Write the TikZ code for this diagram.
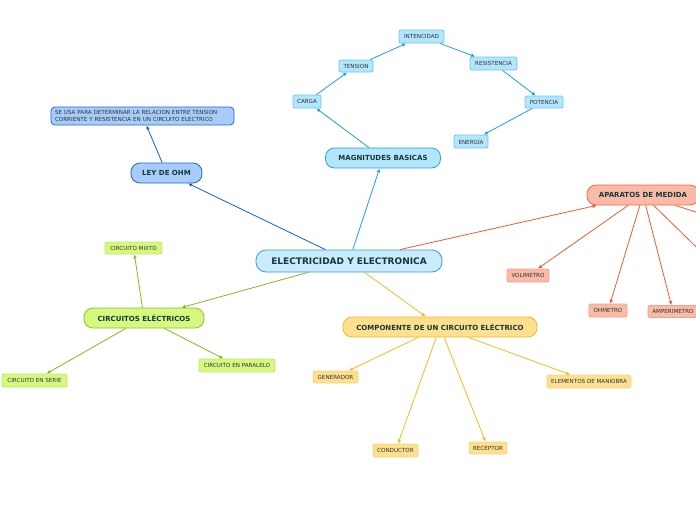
\documentclass[tikz,border=0pt]{standalone}
\usepackage{fontspec}
\setmainfont{DejaVu Sans}
\usetikzlibrary{arrows.meta}
\definecolor{txt}{HTML}{173838}
\definecolor{stxt}{HTML}{2E3434}
\definecolor{rootf}{HTML}{C8ECFC}
\definecolor{rootd}{HTML}{3E9ADD}
\definecolor{magf}{HTML}{B3E5FC}
\definecolor{magd}{HTML}{22A6DF}
\definecolor{magc}{HTML}{6CC8F0}
\definecolor{magl}{HTML}{1BA1E2}
\definecolor{ohmf}{HTML}{A8CCFA}
\definecolor{ohmd}{HTML}{2266D6}
\definecolor{ohml}{HTML}{1060D6}
\definecolor{apaf}{HTML}{F9BBA8}
\definecolor{apad}{HTML}{F26A3D}
\definecolor{apac}{HTML}{F4A08A}
\definecolor{apal}{HTML}{F05A2C}
\definecolor{cirf}{HTML}{D6F880}
\definecolor{cird}{HTML}{8DC21F}
\definecolor{circ}{HTML}{C3E86A}
\definecolor{cirl}{HTML}{8AB81A}
\definecolor{comf}{HTML}{FDE08F}
\definecolor{comd}{HTML}{F8B526}
\definecolor{comc}{HTML}{FBD47A}
\definecolor{coml}{HTML}{FBB81C}
\tikzset{
  basebox/.style={draw, line width=0.8pt, inner sep=0pt, align=center},
  bigbox/.style={basebox, text=txt, rounded corners=9pt, font=\bfseries\fontsize{7}{8}\selectfont, minimum height=20pt},
  smallbox/.style={basebox, text=stxt, rounded corners=2pt, font=\fontsize{5.6}{7}\selectfont, minimum height=13pt},
  arr/.style={line width=0.8pt, -{Latex[length=4pt,width=3.6pt]}},
}
\begin{document}
\begin{tikzpicture}[x=1pt,y=1pt]
\useasboundingbox (0,0) rectangle (696,-520);
% root
\node[basebox, text=txt, rounded corners=10pt, fill=rootf, draw=rootd, font=\bfseries\fontsize{9}{10}\selectfont, minimum width=186pt, minimum height=22pt] (root) at (349,-261) {ELECTRICIDAD Y ELECTRONICA};
% magnitudes
\node[bigbox, fill=magf, draw=magd, minimum width=115pt] (magn) at (383,-158) {MAGNITUDES BASICAS};
\node[smallbox, fill=magf, draw=magc, minimum width=28pt] (carga) at (307,-101.5) {CARGA};
\node[smallbox, fill=magf, draw=magc, minimum width=34pt, minimum height=12pt] (tension) at (356,-66) {TENSION};
\node[smallbox, fill=magf, draw=magc, minimum width=45pt] (intenc) at (421.5,-36.5) {INTENCIDAD};
\node[smallbox, fill=magf, draw=magc, minimum width=47pt] (resist) at (493.5,-63.5) {RESISTENCIA};
\node[smallbox, fill=magf, draw=magc, minimum width=38pt, minimum height=12pt] (poten) at (544,-102) {POTENCIA};
\node[smallbox, fill=magf, draw=magc, minimum width=34pt] (energ) at (471,-141.5) {ENERGÍA};
% ohm
\node[bigbox, fill=ohmf, draw=ohmd, minimum width=71pt] (ohm) at (166.5,-173) {LEY DE OHM};
\node[smallbox, fill=ohmf, draw=ohmd, rounded corners=4pt, minimum width=183pt, minimum height=18pt, text width=175pt, align=left] (seusa) at (142.5,-116) {SE USA PARA DETERMINAR LA RELACION ENTRE TENSION\\CORRIENTE Y RESISTENCIA EN UN CIRCUITO ELECTRICO};
% aparatos
\node[bigbox, fill=apaf, draw=apad, minimum width=112pt] (apar) at (643,-195) {APARATOS DE MEDIDA};
\node[smallbox, fill=apaf, draw=apac, minimum width=42pt] (volim) at (528,-275.5) {VOLIMETRO};
\node[smallbox, fill=apaf, draw=apac, minimum width=38pt] (ohmet) at (608,-310.5) {OHMETRO};
\node[smallbox, fill=apaf, draw=apac, minimum width=50pt, minimum height=12pt] (amper) at (673,-311.5) {AMPERIMETRO};
\coordinate (offA) at (730,-280);
\coordinate (offB) at (730,-223);
% circuitos
\node[bigbox, fill=cirf, draw=cird, minimum width=120pt] (circ) at (144,-318) {CIRCUITOS ELÉCTRICOS};
\node[smallbox, fill=cirf, draw=circ, minimum width=57pt, minimum height=12pt] (mixto) at (133.5,-248) {CIRCUITO MIXTO};
\node[smallbox, fill=cirf, draw=circ, minimum width=65pt] (serie) at (34.5,-380.5) {CIRCUITO EN SERIE};
\node[smallbox, fill=cirf, draw=circ, minimum width=76pt] (paral) at (237,-365.5) {CIRCUITO EN PARALELO};
% componente
\node[bigbox, fill=comf, draw=comd, minimum width=194pt] (comp) at (440,-327) {COMPONENTE DE UN CIRCUITO ELÉCTRICO};
\node[smallbox, fill=comf, draw=comc, minimum width=45pt, minimum height=12pt] (gener) at (335.5,-377) {GENERADOR};
\node[smallbox, fill=comf, draw=comc, minimum width=45pt] (conduc) at (395.5,-450.5) {CONDUCTOR};
\node[smallbox, fill=comf, draw=comc, minimum width=38pt, minimum height=12pt] (recep) at (488,-448) {RECEPTOR};
\node[smallbox, fill=comf, draw=comc, minimum width=84pt] (elem) at (589,-381.5) {ELEMENTOS DE MANIOBRA};
% connectors
\draw[arr, magl] (root) -- (magn);
\draw[arr, magl] (magn) -- (carga);
\draw[arr, magl] (carga) -- (tension);
\draw[arr, magl] (tension) -- (intenc);
\draw[arr, magl] (intenc) -- (resist);
\draw[arr, magl] (resist) -- (poten);
\draw[arr, magl] (poten) -- (energ);
\draw[arr, ohml] (root) -- (ohm);
\draw[arr, ohml] (ohm) -- (seusa);
\draw[arr, apal] (root) -- (apar);
\draw[arr, apal] (apar) -- (volim);
\draw[arr, apal] (apar) -- (ohmet);
\draw[arr, apal] (apar) -- (amper);
\draw[line width=0.8pt, apal] (apar) -- (offA);
\draw[line width=0.8pt, apal] (apar) -- (offB);
\draw[arr, cirl] (root) -- (circ);
\draw[arr, cirl] (circ) -- (mixto);
\draw[arr, cirl] (circ) -- (serie);
\draw[arr, cirl] (circ) -- (paral);
\draw[arr, coml] (root) -- (comp);
\draw[arr, coml] (comp) -- (gener);
\draw[arr, coml] (comp) -- (conduc);
\draw[arr, coml] (comp) -- (recep);
\draw[arr, coml] (comp) -- (elem);
\end{tikzpicture}
\end{document}
